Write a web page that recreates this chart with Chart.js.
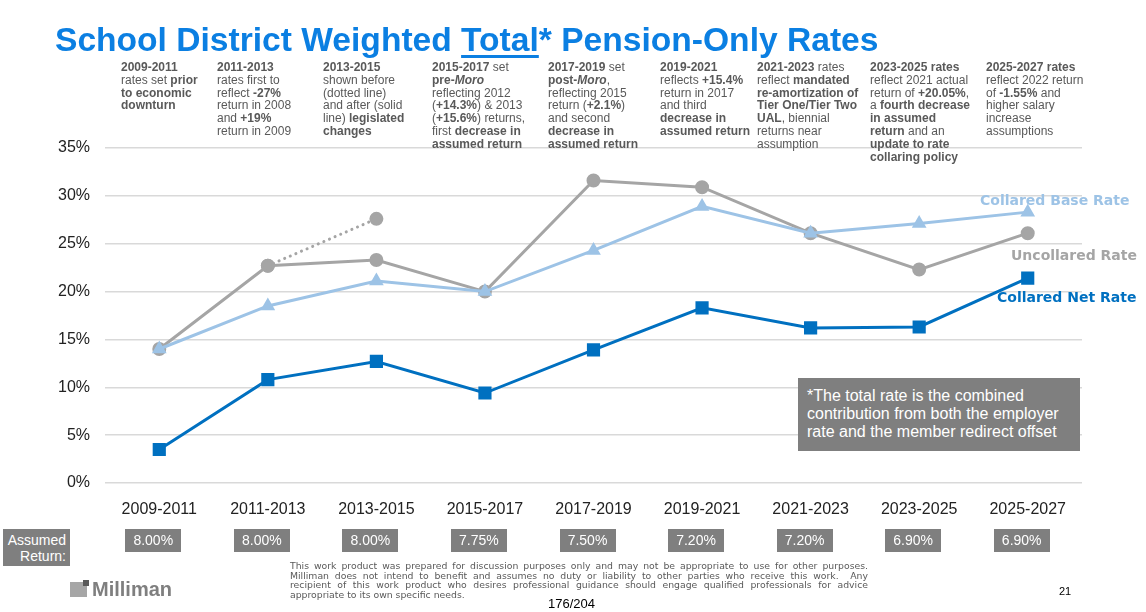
<!DOCTYPE html>
<html>
<head>
<meta charset="utf-8">
<script src="https://cdn.jsdelivr.net/npm/chart.js@4/dist/chart.umd.min.js"></script>
<style>
  body { margin: 0; width: 1146px; height: 612px; overflow: hidden; background: #fff; font-family: "Liberation Sans", Arial, sans-serif; }
  #wrap { position: absolute; left: 0; top: 0; width: 1146px; height: 612px; }
  .title { position: absolute; left: 55px; top: 21px; font-size: 33.6px; font-weight: bold; color: #0b7fe2; white-space: nowrap; }
  .title u { text-decoration-thickness: 3px; text-underline-offset: 4px; }
  .note { position: absolute; top: 61px; font-size: 12px; line-height: 12.8px; color: #595959; white-space: nowrap; }
  .serlab { position: absolute; font-family: "DejaVu Sans", sans-serif; font-weight: bold; font-size: 14px; white-space: nowrap; }
  .foot { position: absolute; left: 798px; top: 378px; width: 282px; height: 73px; background: #7f7f7f; color: #fff; font-size: 16px; line-height: 18px; padding: 9px 0 0 9px; box-sizing: border-box; }
  .ret { position: absolute; top: 529px; width: 56px; height: 23px; background: #7f7f7f; color: #fff; font-size: 14px; line-height: 23px; text-align: center; }
  .retlab { position: absolute; left: 3px; top: 529px; width: 67px; height: 37px; background: #7f7f7f; color: #fff; font-size: 14px; line-height: 16px; text-align: right; padding: 3px 4px 0 0; box-sizing: border-box; }
  .disc { position: absolute; left: 290px; top: 561px; width: 578px; font-family: "DejaVu Sans", sans-serif; font-size: 9.3px; line-height: 9.5px; color: #595959; }
  .disc div { text-align: justify; text-align-last: justify; white-space: nowrap; }
  .disc div.last { text-align-last: left; }
  .page { position: absolute; left: 548px; top: 596px; font-size: 13px; color: #000; }
  .num { position: absolute; left: 1059px; top: 585px; font-size: 11px; color: #000; }
  .logo { position: absolute; left: 70px; top: 578px; font-size: 20px; font-weight: bold; color: #7f7f7f; }
  .logo i { display: inline-block; width: 17px; height: 15px; background: #a6a6a6; margin-right: 5px; vertical-align: -1px; position: relative; }
  .logo i::after { content: ""; position: absolute; right: -2px; top: -2px; width: 6px; height: 6px; background: #595959; }
</style>
</head>
<body>
<div id="wrap"><canvas id="line-chart"></canvas></div>

<div class="title">School District Weighted <u>Total</u>* Pension-Only Rates</div>

<div class="note" style="left:121px"><b>2009-2011</b><br>rates set <b>prior</b><br><b>to economic</b><br><b>downturn</b></div>
<div class="note" style="left:217px"><b>2011-2013</b><br>rates first to<br>reflect <b>-27%</b><br>return in 2008<br>and <b>+19%</b><br>return in 2009</div>
<div class="note" style="left:323px"><b>2013-2015</b><br>shown before<br>(dotted line)<br>and after (solid<br>line) <b>legislated</b><br><b>changes</b></div>
<div class="note" style="left:432px"><b>2015-2017</b> set<br><b>pre-<i>Moro</i></b><br>reflecting 2012<br>(<b>+14.3%</b>) &amp; 2013<br>(<b>+15.6%</b>) returns,<br>first <b>decrease in</b><br><b>assumed return</b></div>
<div class="note" style="left:548px"><b>2017-2019</b> set<br><b>post-<i>Moro</i></b>,<br>reflecting 2015<br>return (<b>+2.1%</b>)<br>and second<br><b>decrease in</b><br><b>assumed return</b></div>
<div class="note" style="left:660px"><b>2019-2021</b><br>reflects <b>+15.4%</b><br>return in 2017<br>and third<br><b>decrease in</b><br><b>assumed return</b></div>
<div class="note" style="left:757px"><b>2021-2023</b> rates<br>reflect <b>mandated</b><br><b>re-amortization of</b><br><b>Tier One/Tier Two</b><br><b>UAL</b>, biennial<br>returns near<br>assumption</div>
<div class="note" style="left:870px"><b>2023-2025 rates</b><br>reflect 2021 actual<br>return of <b>+20.05%</b>,<br>a <b>fourth decrease</b><br><b>in assumed</b><br><b>return</b> and an<br><b>update to rate</b><br><b>collaring policy</b></div>
<div class="note" style="left:986px"><b>2025-2027 rates</b><br>reflect 2022 return<br>of <b>-1.55%</b> and<br>higher salary<br>increase<br>assumptions</div>

<div class="serlab" style="left:980px;top:192px;color:#9dc3e6">Collared Base Rate</div>
<div class="serlab" style="left:1011px;top:247px;color:#a5a5a5">Uncollared Rate</div>
<div class="serlab" style="left:997px;top:289px;color:#0070c0">Collared Net Rate</div>

<div class="foot">*The total rate is the combined contribution from both the employer rate and the member redirect offset</div>

<div class="retlab">Assumed<br>Return:</div>
<div id="rets"></div>

<div class="logo"><i></i>Milliman</div>
<div class="disc">
  <div>This work product was prepared for discussion purposes only and may not be appropriate to use for other purposes.</div>
  <div>Milliman does not intend to benefit and assumes no duty or liability to other parties who receive this work.&nbsp; Any</div>
  <div>recipient of this work product who desires professional guidance should engage qualified professionals for advice</div>
  <div class="last">appropriate to its own specific needs.</div>
</div>
<div class="page">176/204</div>
<div class="num">21</div>

<script>
const periods = ["2009-2011", "2011-2013", "2013-2015", "2015-2017", "2017-2019", "2019-2021", "2021-2023", "2023-2025", "2025-2027"];
const collaredNet = [3.5, 10.8, 12.7, 9.4, 13.9, 18.3, 16.2, 16.3, 21.4];
const collaredBase = [14.0, 18.5, 21.1, 20.0, 24.3, 28.9, 26.1, 27.1, 28.3];
const uncollared = [14.0, 22.7, 23.3, 20.0, 31.6, 30.9, 26.1, 22.3, 26.1];
const uncollaredBefore = [null, 22.7, 27.6, null, null, null, null, null, null];
const assumedReturn = ["8.00%", "8.00%", "8.00%", "7.75%", "7.50%", "7.20%", "7.20%", "6.90%", "6.90%"];
const yTicks = [0, 5, 10, 15, 20, 25, 30, 35];

const chart = new Chart(document.getElementById("line-chart"), {
    type: 'line',
    data: {
        labels: periods,
        datasets: [{
            data: collaredNet,
            label: "Collared Net Rate",
            borderColor: "#0070c0",
            backgroundColor: "#0070c0",
            borderWidth: 3,
            pointStyle: 'rect',
            pointRadius: 7.2,
            fill: false
        }, {
            data: collaredBase,
            label: "Collared Base Rate",
            borderColor: "#9dc3e6",
            backgroundColor: "#9dc3e6",
            borderWidth: 3,
            pointStyle: 'triangle',
            pointRadius: 5.5,
            fill: false
        }, {
            data: uncollared,
            label: "Uncollared Rate",
            borderColor: "#a5a5a5",
            backgroundColor: "#a5a5a5",
            borderWidth: 3,
            pointStyle: 'circle',
            pointRadius: 5.5,
            fill: false
        }, {
            // 2013-2015 value shown before legislated changes
            data: uncollaredBefore,
            label: "Uncollared Rate (before)",
            borderColor: "#a5a5a5",
            backgroundColor: "#a5a5a5",
            borderWidth: 3,
            borderDash: [0.1, 6],
            borderCapStyle: 'round',
            pointStyle: 'circle',
            pointRadius: 5.5,
            fill: false
        }]
    },
    options: {
        responsive: true,
        maintainAspectRatio: false,
        animation: false,
        layout: { padding: { left: 0, top: 148, right: 64, bottom: 89 } },
        plugins: { legend: { display: false }, tooltip: { enabled: false } },
        elements: { line: { tension: 0 }, point: { borderWidth: 0 } },
        scales: {
            x: {
                offset: true,
                grid: { display: false },
                border: { display: false },
                ticks: { color: "#222", font: { family: "Liberation Sans", size: 16 }, padding: 9 },
                afterFit: s => { s.height = 40; }
            },
            y: {
                min: 0,
                max: 35,
                afterBuildTicks: s => { s.ticks = yTicks.map(v => ({ value: v })); },
                grid: { color: "#d9d9d9", lineWidth: 1.5, drawTicks: false },
                border: { display: false },
                ticks: { color: "#222", font: { family: "Liberation Sans", size: 16 }, padding: 15, callback: v => v + '%' },
                afterFit: s => { s.width = 105; }
            }
        }
    }
});

// assumed return boxes, placed under each category tick
const rets = document.getElementById("rets");
const xs = chart.scales.x;
assumedReturn.forEach((r, i) => {
    const d = document.createElement("div");
    d.className = "ret";
    d.textContent = r;
    d.style.left = (xs.getPixelForValue(i) - 34) + "px";
    rets.appendChild(d);
});
</script>
</body>
</html>
